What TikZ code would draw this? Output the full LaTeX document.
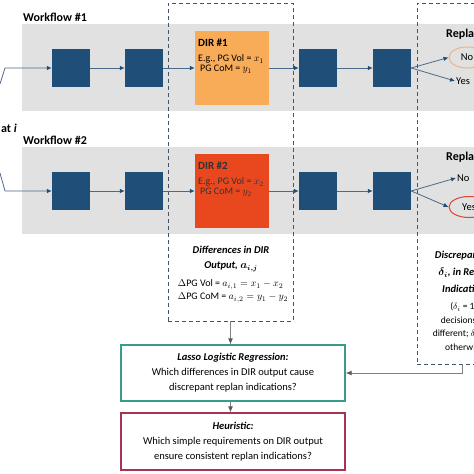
\documentclass[tikz,border=0pt]{standalone}
\usepackage{amsmath}
\usepackage{amssymb}
\usepackage{fontspec}
\setmainfont{Carlito}
\usetikzlibrary{arrows.meta,positioning,shapes.geometric}

\definecolor{bandgray}{HTML}{E1E1E1}
\definecolor{stepblue}{HTML}{1F4E79}
\definecolor{dirone}{HTML}{F9AC57}
\definecolor{dirtwo}{HTML}{E9481F}
\definecolor{dashgray}{HTML}{44546A}
\definecolor{flowblue}{HTML}{4A6A8C}
\definecolor{lassoteal}{HTML}{3A9A8C}
\definecolor{heurred}{HTML}{A83255}
\definecolor{noorange}{HTML}{F2B27E}
\definecolor{yesred}{HTML}{D9452E}

\begin{document}
\begin{tikzpicture}[
      x=1pt, y=-1pt,
      font=\fontsize{10.5}{15}\selectfont,
      blk/.style={fill=stepblue, minimum size=38pt, inner sep=0pt},
      dirbox/.style={minimum width=74pt, minimum height=74pt, inner sep=0pt},
      dirtxt/.style={anchor=north west, align=left, inner sep=0pt,
                     font=\fontsize{10}{10}\selectfont},
      ttl/.style={anchor=west, inner sep=0pt, font=\bfseries\fontsize{12}{14}\selectfont},
      ans/.style={inner sep=1pt, font=\fontsize{10.5}{12}\selectfont},
      pick/.style={ellipse, line width=1pt, minimum width=36pt, minimum height=21pt},
      dashbox/.style={draw=dashgray, line width=0.9pt, dash pattern=on 4pt off 3pt},
      resbox/.style={line width=1.2pt, minimum width=224pt, minimum height=56pt,
                     align=center},
      flow/.style={draw=flowblue, line width=0.8pt,
                   -{Latex[length=5pt, width=4.5pt, color=stepblue]}},
      garr/.style={draw=gray, line width=0.9pt,
                   -{Latex[length=6pt, width=5pt, color=black!65]}}
    ]
    \useasboundingbox (0,0) rectangle (474,474);
    \clip (0,0) rectangle (474,474);
    \fill[white] (0,0) rectangle (474,474);

    % workflow bands
    \fill[bandgray] (22,24) rectangle (490,111);
    \fill[bandgray] (22,147) rectangle (490,234);
    \node[ttl] (wf1) at (23,17) {Workflow \#1};
    \node[ttl] (wf2) at (23,140) {Workflow \#2};
    \node[font=\bfseries\fontsize{12}{14}\selectfont, anchor=east, inner sep=0pt]
      (plan) at (17,128) {at \textit{i}};

    % dashed groups
    \node[dashbox, minimum width=125pt, minimum height=318pt] (diffbox) at (230.5,162) {};
    \node[dashbox, minimum width=90pt, minimum height=361pt] (discbox) at (462,183.5) {};

    % workflow 1
    \node[blk] (w1a) at (71,68) {};
    \node[blk] (w1b) at (144,68) {};
    \node[dirbox, fill=dirone] (dir1) at (232,68) {};
    \node[dirtxt] (dir1t) at (198,39)
      {{\bfseries\fontsize{11}{11}\selectfont DIR \#1}\\[5pt]E.g., PG Vol = $x_1$\\\hspace{2pt}PG CoM = $y_1$};
    \node[blk] (w1c) at (318,68) {};
    \node[blk] (w1d) at (392,68) {};
    \node[ttl] (rp1) at (446,34) {Replan};
    \node[ans, pick, draw=noorange] (no1) at (467,57.5) {No};
    \node[ans, anchor=west] (yes1) at (455,81) {Yes};

    % workflow 2
    \node[blk] (w2a) at (71,191) {};
    \node[blk] (w2b) at (144,191) {};
    \node[dirbox, fill=dirtwo] (dir2) at (232,191) {};
    \node[dirtxt, text=black!80] (dir2t) at (198,162)
      {{\bfseries\fontsize{11}{11}\selectfont DIR \#2}\\[5pt]E.g., PG Vol = $x_2$\\\hspace{2pt}PG CoM = $y_2$};
    \node[blk] (w2c) at (318,191) {};
    \node[blk] (w2d) at (392,191) {};
    \node[ttl] (rp2) at (446,157) {Replan};
    \node[ans, anchor=west] (no2) at (456,178) {No};
    \node[ans, pick, draw=yesred, minimum width=40pt] (yes2) at (469,207) {Yes};

    \coordinate (in1) at (0,84);
    \coordinate (in1k) at (5,68);
    \coordinate (in2) at (0,173);
    \coordinate (in2k) at (5,191);

    \draw[flow] (in1) -- (in1k) -- (w1a);
    \draw[flow] (w1a) -- (w1b);
    \draw[flow] (w1b) -- (dir1);
    \draw[flow] (dir1) -- (w1c);
    \draw[flow] (w1c) -- (w1d);
    \draw[flow] (w1d.east) -- (no1.west);
    \draw[flow] (w1d.east) -- (yes1.west);

    \draw[flow] (in2) -- (in2k) -- (w2a);
    \draw[flow] (w2a) -- (w2b);
    \draw[flow] (w2b) -- (dir2);
    \draw[flow] (dir2) -- (w2c);
    \draw[flow] (w2c) -- (w2d);
    \draw[flow] (w2d.east) -- (no2.west);
    \draw[flow] (w2d.east) -- (yes2.west);

    % texts under the bands
    \node[align=center, font=\bfseries\itshape\boldmath\fontsize{10.5}{15}\selectfont]
      (difft) at (231,259) {Differences in DIR\\Output, $a_{i,j}$};
    \node[align=left, font=\fontsize{10}{13}\selectfont]
      (diffeq) at (233,291) {$\Delta$PG Vol = $a_{i,1} = x_1 - x_2$\\$\Delta$PG CoM = $a_{i,2} = y_1 - y_2$};
    \node[align=center, font=\bfseries\itshape\boldmath\fontsize{10.5}{17}\selectfont]
      (disct) at (466,272) {Discrepancies,\\$\delta_i$, in Replan\\Indications};
    \node[align=center, font=\fontsize{9.5}{13.5}\selectfont]
      (discd) at (466,327) {($\delta_i$ = 1 if\\decisions are\\different; $\delta_i$ = 0 if\\otherwise)};

    % analysis
    \node[resbox, draw=lassoteal] (lasso) at (233,373)
      {\textbf{\textit{Lasso Logistic Regression:}}\\Which differences in DIR output cause\\discrepant replan indications?};
    \node[resbox, draw=heurred, minimum height=57pt] (heur) at (233,441.5)
      {\textbf{\textit{Heuristic:}}\\Which simple requirements on DIR output\\ensure consistent replan indications?};

    \draw[garr] (diffbox.south) -- (diffbox.south |- lasso.north);
    \draw[garr] (lasso.south -| diffbox.south) -- (heur.north -| diffbox.south);
    \draw[garr] (discbox.south) |- (lasso.east);
  \end{tikzpicture}
\end{document}
